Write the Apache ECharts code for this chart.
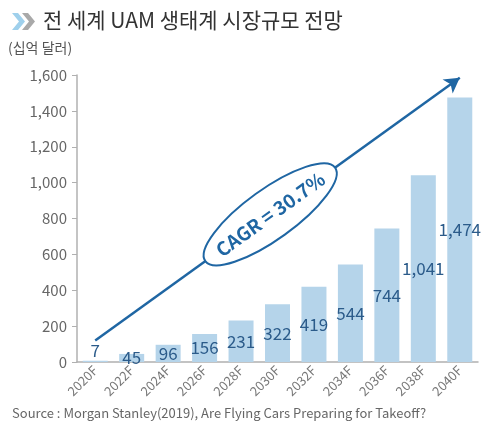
<!DOCTYPE html>
<html>
<head>
<meta charset="utf-8">
<script src="https://cdn.jsdelivr.net/npm/echarts@6/dist/echarts.min.js"></script>
<style>
html, body { margin: 0; padding: 0; background: #fff; }
#main { width: 500px; height: 429px; }
</style>
</head>
<body>
<div id="main"></div>
<script>
// 데이터
var years = ['2020F', '2022F', '2024F', '2026F', '2028F', '2030F', '2032F', '2034F', '2036F', '2038F', '2040F'];
var market = [7, 45, 96, 156, 231, 322, 419, 544, 744, 1041, 1474];
var yTicks = [0, 200, 400, 600, 800, 1000, 1200, 1400, 1600];
// 화살표 (카테고리, 값)
var arrowFrom = ['2020F', 120];
var arrowTo = ['2040F', 1585];
var cagrText = 'CAGR = 30.7%';

var fontKr = '"Noto Sans CJK KR", "Noto Sans", sans-serif';
var blue = '#1f66a3';

function init () {
	var cc = echarts.init(document.getElementById('main'));

	var barData = [];
	for (var i = 0; i < market.length; i++) {
		var d = { value: market[i] };
		if (market[i] < 20) {
			d.label = { position: 'top', distance: 2 };	// 작은 값은 막대 위에
		}
		barData.push(d);
	}

	var op = {
		animation: false,
		textStyle: { fontFamily: fontKr },
		grid: { left: 77, right: 22, top: 75, bottom: 67 },
		xAxis: {
			type: 'category',
			data: years,
			axisLine: { lineStyle: { color: '#b0b0b0', width: 1.5 } },
			axisTick: { show: false },
			axisLabel: {
				rotate: 45,
				color: '#777',
				fontSize: 13,
				margin: 6,
				fontFamily: fontKr
			}
		},
		yAxis: {
			type: 'value',
			min: yTicks[0],
			max: yTicks[yTicks.length - 1],
			interval: 200,
			axisLine: { show: true, lineStyle: { color: '#b0b0b0', width: 1.5 } },
			axisTick: { show: true, length: 5, lineStyle: { color: '#b0b0b0' } },
			splitLine: { show: false },
			axisLabel: {
				color: '#666',
				fontSize: 15,
				margin: 10,
				fontFamily: fontKr,
				formatter: function (v) { return v.toLocaleString('en-US'); }
			}
		},
		series: [{
			name: '시장규모',
			type: 'bar',
			barWidth: 25,
			data: barData,
			itemStyle: { color: '#b5d4ea' },
			label: {
				show: true,
				position: 'inside',
				color: '#2b5b8a',
				fontSize: 17,
				fontFamily: fontKr,
				formatter: function (p) { return p.value.toLocaleString('en-US'); }
			},
			markLine: {		// 성장 화살표
				silent: true,
				z: 3,
				symbol: ['none', 'arrow'],
				symbolSize: [13, 15],
				label: { show: false },
				lineStyle: { color: blue, width: 2.5, type: 'solid' },
				data: [[
					{ coord: arrowFrom },
					{ coord: arrowTo }
				]]
			}
		}]
	};

	cc.setOption(op);

	// 타원 + CAGR 문구
	var p0 = cc.convertToPixel({ seriesIndex: 0 }, arrowFrom);
	var p1 = cc.convertToPixel({ seriesIndex: 0 }, arrowTo);
	var t = 0.48;
	var cx = p0[0] + (p1[0] - p0[0]) * t;
	var cy = p0[1] + (p1[1] - p0[1]) * t;
	var ang = Math.atan2(p0[1] - p1[1], p1[0] - p0[0]);

	cc.setOption({
		graphic: [
			// 제목 아이콘
			{ type: 'polygon', left: 12, top: 13, shape: { points: [[0, 0], [6, 0], [13, 8.5], [6, 17], [0, 17], [7, 8.5]] }, style: { fill: '#9fd0ec' } },
			{ type: 'polygon', left: 22, top: 13, shape: { points: [[0, 0], [6, 0], [13, 8.5], [6, 17], [0, 17], [7, 8.5]] }, style: { fill: '#a9a9a9' } },
			{ type: 'text', left: 43, top: 10, style: { text: '전 세계 UAM 생태계 시장규모 전망', fill: '#333', font: '21px ' + fontKr } },
			{ type: 'text', left: 8, top: 41, style: { text: '(십억 달러)', fill: '#555', font: '14px ' + fontKr } },
			{ type: 'text', left: 12, top: 407, style: { text: 'Source : Morgan Stanley(2019), Are Flying Cars Preparing for Takeoff?', fill: '#666', font: '13px ' + fontKr } },
			{
				type: 'group',
				x: cx, y: cy,
				rotation: ang,
				z: 100,
				children: [
					{ type: 'ellipse', z: 100, shape: { cx: 0, cy: 0, rx: 80, ry: 25 }, style: { fill: '#fff', stroke: blue, lineWidth: 2 } },
					{ type: 'text', z: 101, x: 0, y: 0, style: { text: cagrText, fill: blue, font: 'bold 19px ' + fontKr, align: 'center', verticalAlign: 'middle' } }
				]
			}
		]
	});
}

init();
</script>
</body>
</html>
